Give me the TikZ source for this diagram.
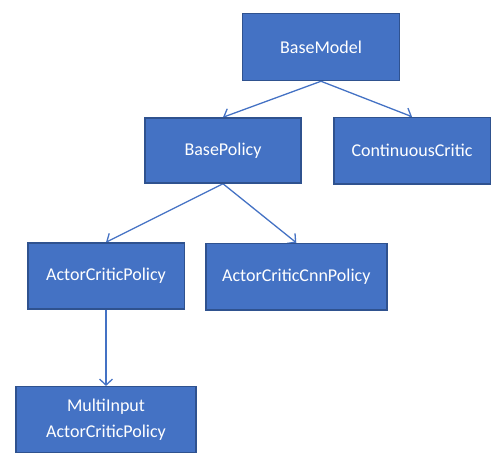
\documentclass[tikz,border=0pt]{standalone}
\usepackage{fontspec}
\setmainfont{Carlito}
\usepackage{tikz}
\usetikzlibrary{positioning}
\usetikzlibrary{arrows.meta}
\definecolor{boxblue}{HTML}{4472C4}
\definecolor{boxedge}{HTML}{2F528F}
\pgfdeclarelayer{nodelayer}
\pgfdeclarelayer{edgelayer}
\pgfsetlayers{edgelayer,nodelayer,main}
\tikzset{
    classbox/.style = {rectangle, fill=boxblue, draw=boxedge, line width=1.5pt,
        text=white, align=center, inner sep=0pt,
        font=\fontsize{18}{26.7}\selectfont},
    inherits/.style = {draw=boxblue, line width=1.3pt,
        -{Straight Barb[length=6pt,width=13pt,line width=1.3pt]}}
}

\begin{document}
\begin{tikzpicture}[x=1pt, y=-1pt]
  \useasboundingbox (0, 0) rectangle (503, 461);
  \begin{pgfonlayer}{nodelayer}
    \node [classbox, minimum width=157pt, minimum height=67pt] (basemodel) at (321, 47) {BaseModel};
    \node [classbox, minimum width=156pt, minimum height=65pt] (basepolicy) at (223, 150.5) {BasePolicy};
    \node [classbox, minimum width=156.5pt, minimum height=66.5pt] (critic) at (412, 150.7) {ContinuousCritic};
    \node [classbox, minimum width=156.5pt, minimum height=66pt] (acpolicy) at (106, 276) {ActorCriticPolicy};
    \node [classbox, minimum width=181pt, minimum height=66.5pt] (acnnpolicy) at (296.3, 276.7) {ActorCriticCnnPolicy};
    \node [classbox, minimum width=180.3pt, minimum height=66pt] (multiinput) at (106, 419.7) {MultiInput\\ActorCriticPolicy};
  \end{pgfonlayer}
  \begin{pgfonlayer}{edgelayer}
    \draw [inherits] (basemodel.south) to (basepolicy.north);
    \draw [inherits] (basemodel.south) to (critic.north);
    \draw [inherits] (basepolicy.south) to (acpolicy.north);
    \draw [inherits] (basepolicy.south) to (acnnpolicy.north);
    \draw [inherits] (acpolicy.south) to (multiinput.north);
  \end{pgfonlayer}
\end{tikzpicture}
\end{document}
